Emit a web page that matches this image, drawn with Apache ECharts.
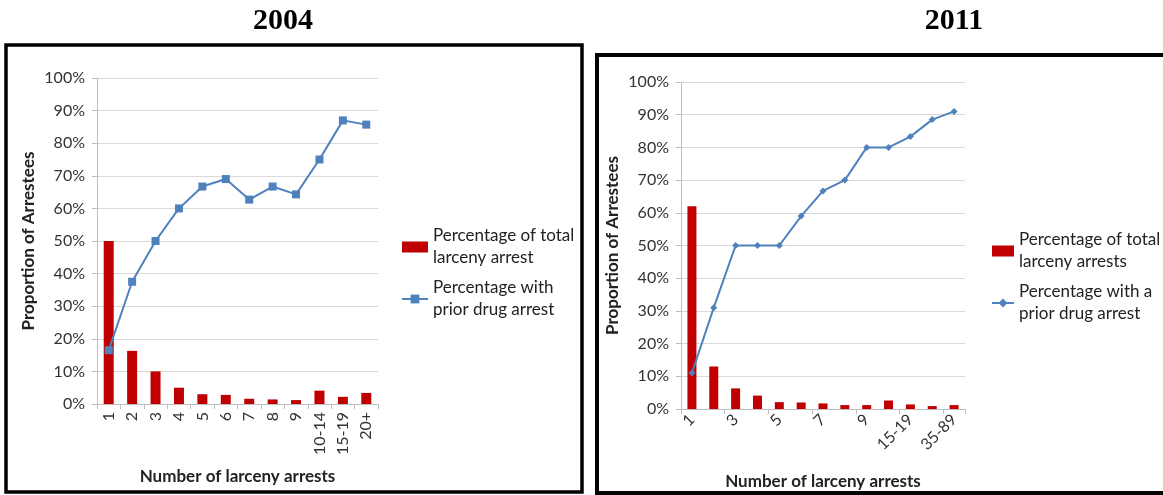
<!DOCTYPE html>
<html>
<head>
<meta charset="utf-8">
<script src="https://cdn.jsdelivr.net/npm/echarts@6/dist/echarts.min.js"></script>
<style>
  html, body { margin: 0; padding: 0; background: #fff; }
  #main { width: 1163px; height: 495px; }
</style>
</head>
<body>
<div id="main"></div>
<script>
// 2004 data
const cats2004 = ['1', '2', '3', '4', '5', '6', '7', '8', '9', '10-14', '15-19', '20+'];
const larceny2004 = [50, 16.3, 10, 5, 3, 2.8, 1.6, 1.4, 1.2, 4.1, 2.2, 3.4];
const drug2004 = [16.5, 37.5, 50, 60, 66.7, 69, 62.7, 66.7, 64.3, 75, 87, 85.7];

// 2011 data
const cats2011 = ['1', '2', '3', '4', '5', '6', '7', '8', '9', '10-14', '15-19', '20-34', '35-89'];
const larceny2011 = [62, 13, 6.3, 4.1, 2.1, 2, 1.7, 1.2, 1.2, 2.6, 1.4, 0.9, 1.2];
const drug2011 = [11, 31, 50, 50, 50, 59, 66.7, 70, 80, 80, 83.3, 88.5, 91];

const font = 'Lato';
const red = '#C00000';
const blue = '#4F81BD';

const chart = echarts.init(document.getElementById('main'));

const yAxisBase = (gridIndex) => ({
    gridIndex,
    type: 'value',
    min: 0,
    max: 100,
    interval: 10,
    name: 'Proportion of Arrestees',
    nameLocation: 'middle',
    nameGap: 60,
    nameTextStyle: { fontFamily: font, fontSize: 17, fontWeight: 'bold', color: '#222' },
    axisLine: { show: true, lineStyle: { color: '#bfbfbf' } },
    axisTick: { show: true, length: 5, lineStyle: { color: '#bfbfbf' } },
    axisLabel: { formatter: '{value}%', fontFamily: font, fontSize: 16, color: '#333', margin: 12 },
    splitLine: { lineStyle: { color: '#d9d9d9' } }
});

const xAxisBase = (gridIndex, data, rotate, interval, gap) => ({
    gridIndex,
    type: 'category',
    data,
    name: 'Number of larceny arrests',
    nameLocation: 'middle',
    nameGap: gap,
    nameTextStyle: { fontFamily: font, fontSize: 17, fontWeight: 'bold', color: '#222' },
    axisLine: { lineStyle: { color: '#bfbfbf' } },
    axisTick: { show: true, length: 5, lineStyle: { color: '#bfbfbf' } },
    axisLabel: { rotate, interval, fontFamily: font, fontSize: 16, color: '#333', margin: 8 }
});

const titleText = (text, x) => ({
    type: 'text', x, y: 6,
    style: { text, fontFamily: 'Liberation Serif', fontWeight: 'bold', fontSize: 30,
             fill: '#000', align: 'center', verticalAlign: 'top' }
});

chart.setOption({
    animation: false,
    graphic: [
        titleText('2004', 283),
        titleText('2011', 954),
        { type: 'rect', shape: { x: 6, y: 45, width: 576, height: 447 },
          style: { fill: 'none', stroke: '#000', lineWidth: 3.5 } },
        { type: 'rect', shape: { x: 597, y: 55, width: 580, height: 438 },
          style: { fill: 'none', stroke: '#000', lineWidth: 4 } }
    ],
    grid: [
        { left: 97, right: 785, top: 78, bottom: 91 },
        { left: 681, right: 198, top: 82, bottom: 83 }
    ],
    xAxis: [
        xAxisBase(0, cats2004, 90, 0, 64),
        xAxisBase(1, cats2011, 45, 1, 64)
    ],
    yAxis: [
        yAxisBase(0),
        yAxisBase(1)
    ],
    legend: [
        { orient: 'vertical', left: 396, top: 220, itemGap: 8, itemWidth: 26, itemHeight: 11,
          textStyle: { fontFamily: font, fontSize: 17, color: '#222', lineHeight: 22 },
          data: [{ name: 'Percentage of total\nlarceny arrest', icon: 'rect' },
                 'Percentage with\nprior drug arrest'] },
        { orient: 'vertical', left: 986, top: 224, itemGap: 8, itemWidth: 22, itemHeight: 11,
          textStyle: { fontFamily: font, fontSize: 17, color: '#222', lineHeight: 22 },
          data: [{ name: 'Percentage of total\nlarceny arrests', icon: 'rect' },
                 'Percentage with a\nprior drug arrest'] }
    ],
    series: [
        { name: 'Percentage of total\nlarceny arrest', type: 'bar', xAxisIndex: 0, yAxisIndex: 0,
          data: larceny2004, barWidth: 10, itemStyle: { color: red } },
        { name: 'Percentage with\nprior drug arrest', type: 'line', xAxisIndex: 0, yAxisIndex: 0,
          data: drug2004, symbol: 'rect', symbolSize: 8,
          lineStyle: { color: blue, width: 2 }, itemStyle: { color: blue } },
        { name: 'Percentage of total\nlarceny arrests', type: 'bar', xAxisIndex: 1, yAxisIndex: 1,
          data: larceny2011, barWidth: 9, itemStyle: { color: red } },
        { name: 'Percentage with a\nprior drug arrest', type: 'line', xAxisIndex: 1, yAxisIndex: 1,
          data: drug2011, symbol: 'diamond', symbolSize: 7,
          lineStyle: { color: blue, width: 2 }, itemStyle: { color: blue } }
    ]
});
</script>
</body>
</html>
